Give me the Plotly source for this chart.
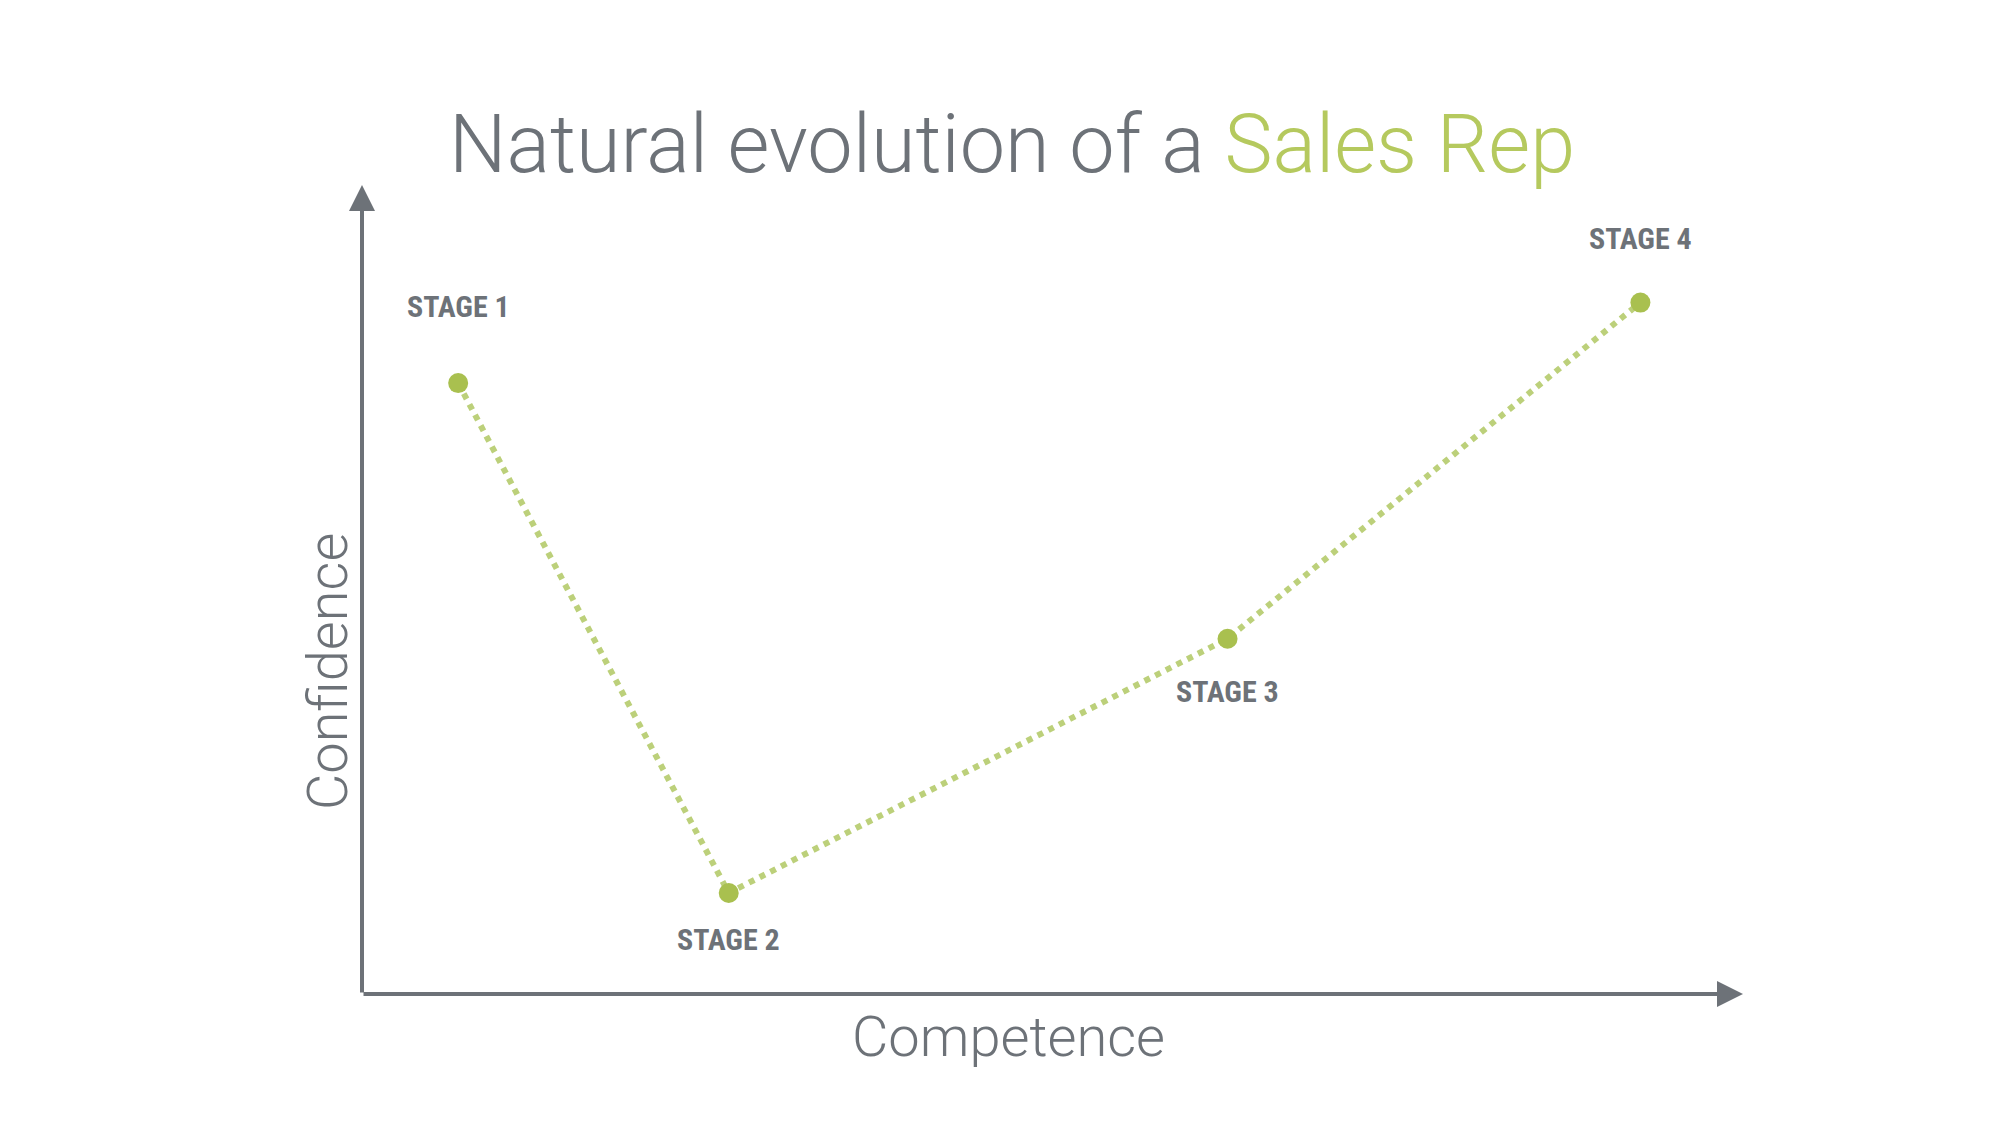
import plotly.graph_objects as go

# data (competence vs confidence, arbitrary units)
stages = ["STAGE 1", "STAGE 2", "STAGE 3", "STAGE 4"]
competence = [75, 286, 675, 997]
confidence = [478, 79, 278, 541]
label_shift = [77, -46, -53, 64]

gray = "#6d7278"
green = "#a9c04f"

fig = go.Figure()
fig.add_trace(go.Scatter(
    x=competence, y=confidence, mode="lines+markers",
    line=dict(color="#bcd07a", width=6, dash="dot"),
    marker=dict(color=green, size=20),
    hoverinfo="skip", cliponaxis=False,
))

for s, cx, cy, sh in zip(stages, competence, confidence, label_shift):
    fig.add_annotation(x=cx, y=cy, xref="x", yref="y", yshift=sh, showarrow=False,
                       text="<b>" + s + "</b>",
                       font=dict(family="Liberation Sans Narrow, Roboto Condensed, Arial", size=30, color=gray))

# axis arrows
fig.add_annotation(x=1077, y=0, ax=0, ay=0, xref="x", yref="y", axref="x", ayref="y",
                   showarrow=True, arrowhead=2, arrowsize=1.3, arrowwidth=4, arrowcolor=gray, text="")
fig.add_annotation(x=0, y=633, ax=0, ay=0, xref="x", yref="y", axref="x", ayref="y",
                   showarrow=True, arrowhead=2, arrowsize=1.3, arrowwidth=4, arrowcolor=gray, text="")

axis_font = dict(family="Roboto", size=56, color=gray, weight=300)
fig.add_annotation(x=1000, y=1064, xref="paper", yref="paper", text="Competence",
                   showarrow=False, font=axis_font)
fig.add_annotation(x=285, y=664, xref="paper", yref="paper", text="Confidence",
                   showarrow=False, textangle=-90, font=axis_font)
fig.add_annotation(x=1004, y=87, xref="paper", yref="paper",
                   text="Natural evolution of a <span style='color:#b5c95e'>Sales Rep</span>",
                   showarrow=False, font=dict(family="Roboto", size=81, color=gray, weight=300))

fig.update_layout(
    width=2000, height=1125,
    paper_bgcolor="white", plot_bgcolor="white",
    margin=dict(l=354, r=265, t=177, b=139),
    showlegend=False,
    xaxis=dict(range=[0, 1077], showgrid=False, zeroline=False, showticklabels=False),
    yaxis=dict(range=[0, 633], showgrid=False, zeroline=False, showticklabels=False),
)
# paper coords in pixels: remap annotations placed with pixel positions
for a in fig.layout.annotations:
    if a.xref == "paper":
        a.x = (a.x - 354) / (2000 - 354 - 265)
        a.y = 1 - (a.y - 177) / (1125 - 177 - 139)

fig.write_html("out.html")
